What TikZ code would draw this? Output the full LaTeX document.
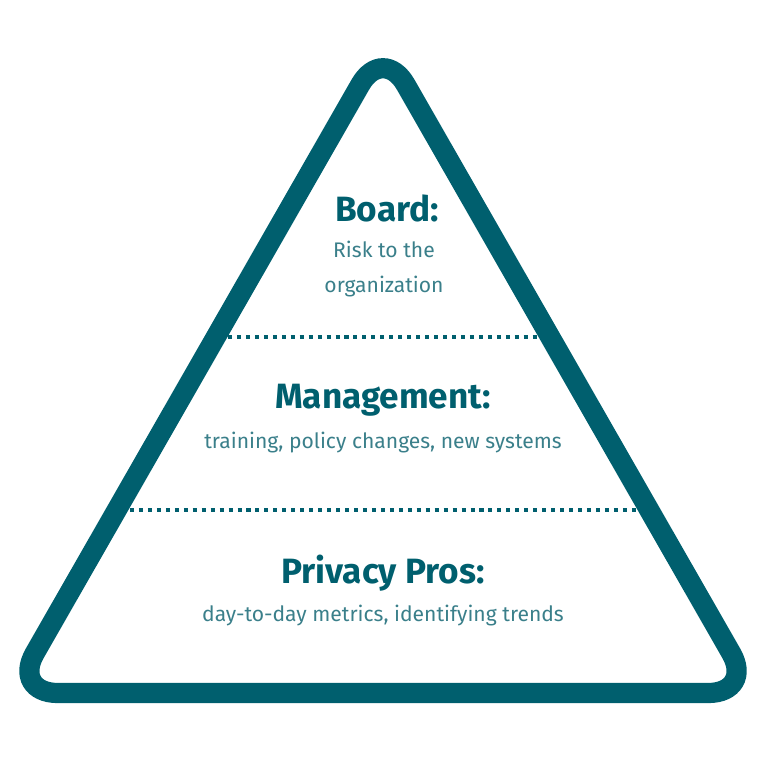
\documentclass[tikz,border=0pt]{standalone}
\usepackage{fontspec}
\setmainfont{Fira Sans}
\definecolor{teal1}{HTML}{005F6E}
\definecolor{teal2}{HTML}{3A7F8A}
\begin{document}
\begin{tikzpicture}[x=0.02cm,y=-0.02cm,
  head/.style={text=teal1,font=\fontsize{20}{24}\selectfont\bfseries,inner sep=0pt},
  sub/.style={text=teal2,font=\fontsize{12}{19.5}\selectfont,inner sep=0pt,align=center},
  divider/.style={draw=teal1,line width=2.3pt,dash pattern=on 2.3pt off 2.8pt}]
\useasboundingbox (0,0) rectangle (768,768);
\coordinate (A) at (383,45);
\coordinate (L) at (12,693);
\coordinate (R) at (754,693);
\draw[teal1,line width=11.5pt,rounded corners=26] (A) -- (R) -- (L) -- cycle;
\coordinate (d1a) at (228,337);
\coordinate (d1b) at (542,337);
\coordinate (d2a) at (130,510);
\coordinate (d2b) at (640,510);
\draw[divider] (d1a) -- (d1b);
\draw[divider] (d2a) -- (d2b);
\node[head] (board) at (387,208) {Board:};
\node[sub] (boardsub) at (384,269) {Risk to the\\organization};
\node[head] (mgmt) at (383,400) {Management:};
\node[sub] (mgmtsub) at (383,443) {training, policy changes, new systems};
\node[head] (pros) at (383,573) {Privacy Pros:};
\node[sub] (prossub) at (383,616) {day-to-day metrics, identifying trends};
\end{tikzpicture}
\end{document}
